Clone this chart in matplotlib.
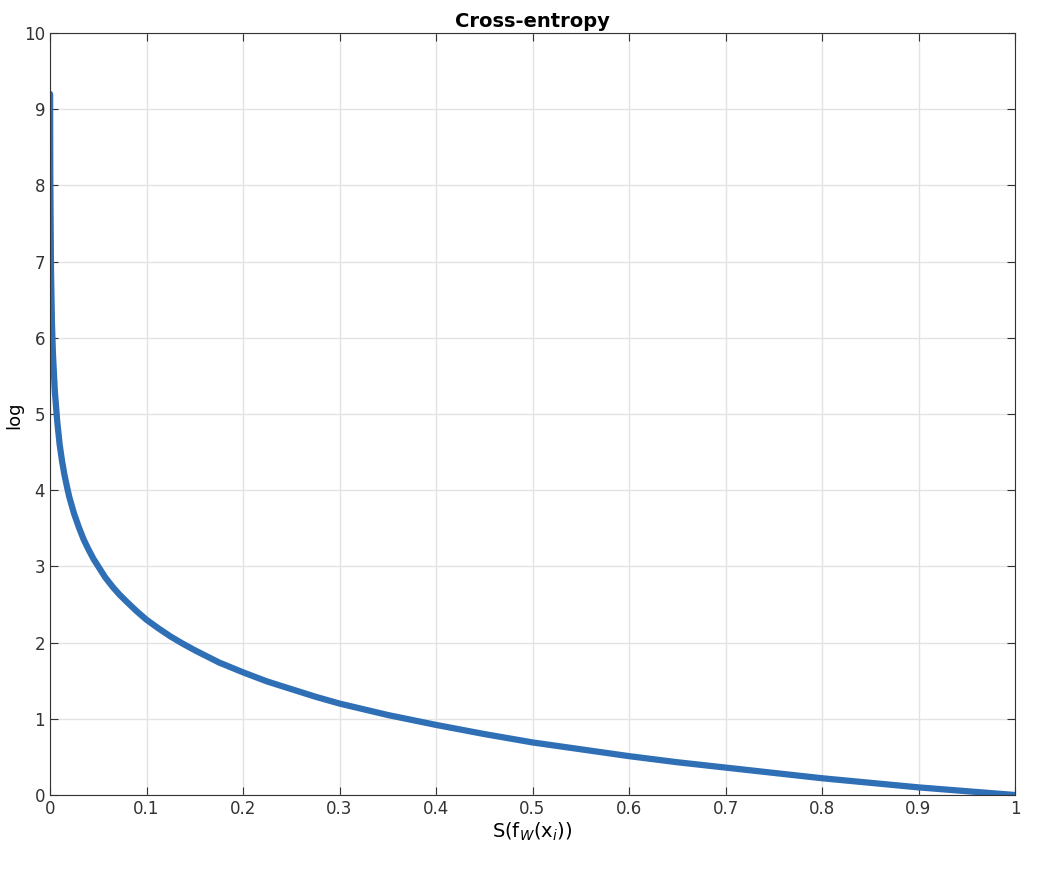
import matplotlib.pyplot as plt

# values
x_vals = [0.0001, 0.0003, 0.001, 0.002, 0.003, 0.005, 0.0075, 0.01, 0.0125, 0.015,
          0.0175, 0.02, 0.025, 0.03, 0.035, 0.04, 0.045, 0.05, 0.057, 0.065, 0.072,
          0.08, 0.09, 0.1, 0.112, 0.125, 0.137, 0.15, 0.175, 0.2, 0.225, 0.25, 0.275,
          0.3, 0.35, 0.4, 0.45, 0.5, 0.55, 0.6, 0.65, 0.7, 0.75, 0.8, 0.85, 0.9,
          0.95, 1.0]
y_vals = [9.2, 8.1, 6.9, 6.2, 5.8, 5.3, 4.9, 4.6, 4.38, 4.2,
          4.05, 3.91, 3.69, 3.51, 3.35, 3.22, 3.1, 3.0, 2.86, 2.73, 2.63,
          2.53, 2.41, 2.3, 2.19, 2.08, 1.99, 1.9, 1.74, 1.61, 1.49, 1.39, 1.29,
          1.2, 1.05, 0.92, 0.8, 0.69, 0.6, 0.51, 0.43, 0.36, 0.29, 0.22, 0.16, 0.1,
          0.05, 0.0]
x_ticks = [0, 0.1, 0.2, 0.3, 0.4, 0.5, 0.6, 0.7, 0.8, 0.9, 1]
x_ticklabels = ["0", "0.1", "0.2", "0.3", "0.4", "0.5", "0.6", "0.7", "0.8", "0.9", "1"]
y_ticks = list(range(0, 11))

fig = plt.figure(figsize=(10.46, 8.84), dpi=100)
ax = fig.add_axes([50 / 1046, 1 - 795 / 884, 965 / 1046, 762 / 884])
ax.plot(x_vals, y_vals, color="#2f6fb5", linewidth=4.5, solid_capstyle="round")
ax.set_xlim(0, 1)
ax.set_ylim(0, 10)
ax.set_xticks(x_ticks)
ax.set_xticklabels(x_ticklabels)
ax.set_yticks(y_ticks)
ax.grid(True, color="#e3e3e3", linewidth=1)
ax.tick_params(direction="in", labelsize=12, top=True, right=True, length=6,
               colors="#333333")
for s in ax.spines.values():
    s.set_color("#333333")
ax.set_title("Cross-entropy", fontsize=14, fontweight="bold", pad=4)
ax.set_xlabel("S(f$_W$(x$_i$))", fontsize=14, labelpad=2)
fig.text(0.014, 0.53, "log", rotation=90, fontsize=13, va="center", ha="center")
fig.savefig("out.png", dpi=100)
